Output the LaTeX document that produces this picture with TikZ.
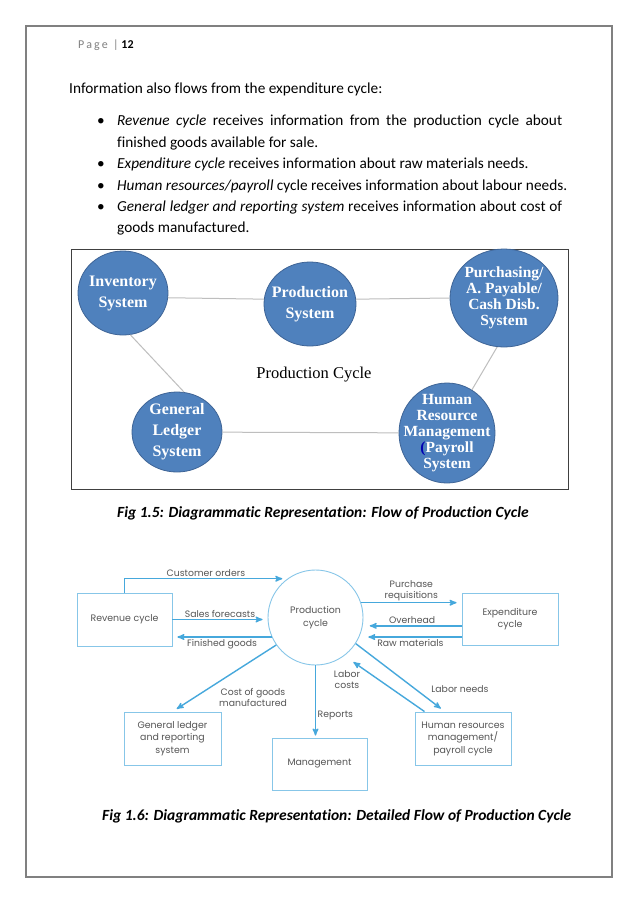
\documentclass[tikz,border=0pt]{standalone}
\usepackage{fontspec}
\setmainfont{Carlito}[Ligatures=NoCommon]
\newfontfamily\timesfont{Liberation Serif}
\newfontfamily\futfont{Poppins}
\usetikzlibrary{arrows,calc,shapes.geometric}

\definecolor{sysblue}{RGB}{79,129,189}
\definecolor{sysedge}{RGB}{62,100,150}
\definecolor{flowblue}{RGB}{70,168,220}
\definecolor{boxblue}{RGB}{135,198,232}
\definecolor{labelgray}{RGB}{85,85,85}
\definecolor{linkgray}{RGB}{190,190,190}

\begin{document}
\begin{tikzpicture}[x=1pt,y=-1pt,>=stealth',
    line/.style={anchor=base west,inner sep=0pt,font=\fontsize{15.3}{18}\selectfont},
    caption/.style={anchor=base west,inner sep=0pt,font=\bfseries\itshape\fontsize{15.5}{18}\selectfont},
    sys/.style={ellipse,fill=sysblue,draw=sysedge,line width=0.8pt,inner sep=0pt},
    systext/.style={text=white,align=center,font=\timesfont\bfseries\fontsize{16}{21}\selectfont},
    systight/.style={text=white,align=center,font=\timesfont\bfseries\fontsize{15.5}{16}\selectfont},
    link/.style={draw=linkgray,line width=1pt},
    box/.style={rectangle,draw=boxblue,line width=0.9pt,inner sep=0pt,align=center,
      text=labelgray,font=\futfont\fontsize{9.4}{12.5}\selectfont},
    flow/.style={->,draw=flowblue,line width=1.4pt,shorten >=5pt},
    lbl/.style={text=labelgray,inner sep=1.5pt,align=center,font=\futfont\fontsize{9.3}{11}\selectfont}]

  \useasboundingbox (0,0) rectangle (638,903);
  \fill[white] (0,0) rectangle (638,903);
  \draw[gray,line width=1.2pt] (26,26) rectangle (612,877);

  % page text
  \node[line] (hdr) at (78,48) {\fontsize{12}{14}\selectfont\textcolor{gray}{P\,a\,g\,e\ \ |}\ \textbf{12}};
  \node[line] (intro) at (69,93) {Information also flows from the expenditure cycle:};
  \node[line] (b_1a) at (117,125) {\hbox to 445pt{\textit{Revenue cycle} receives information from the production cycle about}};
  \node[line] (b_1b) at (117,147) {finished goods available for sale.};
  \node[line] (b_2) at (117,168) {\textit{Expenditure cycle} receives information about raw materials needs.};
  \node[line] (b_3) at (117,190) {\textit{Human resources/payroll} cycle receives information about labour needs.};
  \node[line] (b_4a) at (117,211) {\hbox to 445pt{\textit{General ledger and reporting system} receives information about cost of}};
  \node[line] (b_4b) at (117,232) {goods manufactured.};
  \foreach \y in {125,168,190,211}
    \node[line] (dot_\y) at (97,\y) {\textbullet};

  % Fig 1.5
  \draw[darkgray,line width=1pt] (71,249) rectangle (568,489);
  \node[sys,minimum width=90pt,minimum height=84pt,
    label={[systext]center:{Inventory\\System}}] (sys_inv) at (123,293) {};
  \node[sys,minimum width=92pt,minimum height=84pt,
    label={[systext]center:{Production\\System}}] (sys_prod) at (310,304) {};
  \node[sys,minimum width=108pt,minimum height=98pt,
    label={[systight]center:{Purchasing/\\A. Payable/\\Cash Disb.\\System}}] (sys_pur) at (504,298) {};
  \node[sys,minimum width=90pt,minimum height=80pt,
    label={[systext]center:{General\\Ledger\\System}}] (sys_gl) at (177,432) {};
  \node[sys,minimum width=96pt,minimum height=100pt,
    label={[systight]center:{Human\\Resource\\Management\\\textcolor{blue!70!black}{(}Payroll\\System}}] (sys_hr) at (447,433) {};
  \draw[link] (sys_inv.-6) -- (sys_prod.174);
  \draw[link] (sys_prod.6) -- (sys_pur.180);
  \draw[link] (sys_inv.-80) -- (sys_gl.80);
  \draw[link] (sys_pur.-98) -- (sys_hr.60);
  \draw[link] (sys_gl) -- (sys_hr);
  \node[font=\timesfont\fontsize{16.5}{18}\selectfont] (cyc_name) at (314,375) {Production Cycle};
  \node[caption] (fig_a) at (117,517) {Fig 1.5: Diagrammatic Representation: Flow of Production Cycle};

  % Fig 1.6
  \node[box,minimum width=95pt,minimum height=53pt] (box_rev) at (124.5,619.5) {Revenue cycle};
  \node[circle,draw=boxblue,line width=0.9pt,minimum size=95pt,inner sep=0pt,align=center,
    text=labelgray,font=\futfont\fontsize{9.4}{12.5}\selectfont] (cyc_prod) at (315.5,617.5) {Production\\cycle};
  \node[box,minimum width=96pt,minimum height=52pt] (box_exp) at (510,619) {Expenditure\\cycle};
  \node[box,minimum width=97pt,minimum height=53pt] (box_gl) at (172.5,738.5) {General ledger\\and reporting\\system};
  \node[box,minimum width=95pt,minimum height=52pt] (box_mgt) at (319.5,764) {Management};
  \node[box,minimum width=96pt,minimum height=53pt] (box_hr) at (463,738.5) {Human resources\\management/\\payroll cycle};

  \draw[flow] (box_rev.north) |- node[lbl,pos=0.75,above] {Customer orders} (cyc_prod.126);
  \draw[flow] (box_rev.east) -- node[lbl,above] {Sales forecasts} (box_rev.east -| cyc_prod.west);
  \draw[flow] (cyc_prod.204) -- node[lbl,below] {Finished goods} (cyc_prod.204 -| box_rev.east);
  \draw[flow] (cyc_prod.18) -- node[lbl,above] {Purchase\\requisitions} (cyc_prod.18 -| box_exp.west);
  \draw[flow,shorten >=7pt] (cyc_prod.-10 -| box_exp.west) -- node[lbl,above] {Overhead} (cyc_prod.-10);
  \draw[flow,shorten >=9pt] (cyc_prod.-24 -| box_exp.west) -- node[lbl,below] {Raw materials} (cyc_prod.-24);
  \draw[flow] (cyc_prod.215) -- (box_gl.north);
  \draw[flow,shorten >=2pt] (cyc_prod.south) -- node[lbl,pos=0.7,right] {Reports} (cyc_prod.south |- box_mgt.north);
  \draw[flow] (cyc_prod.-33) -- (box_hr.124);
  \draw[flow,shorten >=11pt] (box_hr.145) -- (cyc_prod.-53);
  \node[lbl] (lbl_cogm) at (253,697) {Cost of goods\\manufactured};
  \node[lbl] (lbl_lc) at (347,680) {Labor\\costs};
  \node[lbl] (lbl_ln) at (460,689) {Labor needs};
  \node[caption] (fig_b) at (102,820) {Fig 1.6: Diagrammatic Representation: Detailed Flow of Production Cycle};
\end{tikzpicture}
\end{document}
